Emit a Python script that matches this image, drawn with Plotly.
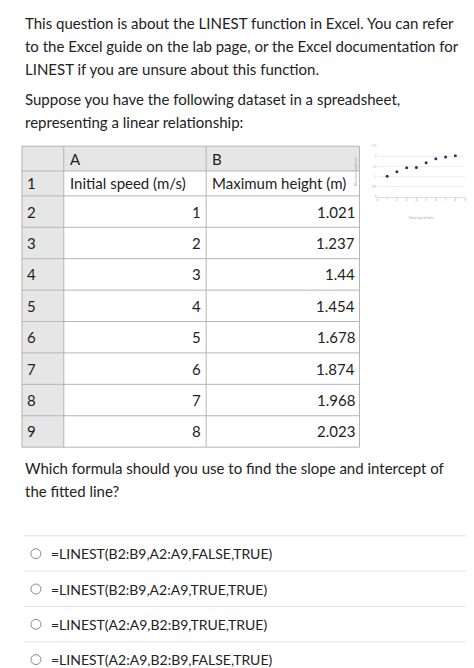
import plotly.graph_objects as go

W, H = 474, 668

intro = ["This question is about the LINEST function in Excel. You can refer",
         "to the Excel guide on the lab page, or the Excel documentation for",
         "LINEST if you are unsure about this function."]
suppose = ["Suppose you have the following dataset in a spreadsheet,",
           "representing a linear relationship:"]
question = ["Which formula should you use to find the slope and intercept of",
            "the fitted line?"]
options = ["=LINEST(B2:B9,A2:A9,FALSE,TRUE)",
           "=LINEST(B2:B9,A2:A9,TRUE,TRUE)",
           "=LINEST(A2:A9,B2:B9,TRUE,TRUE)",
           "=LINEST(A2:A9,B2:B9,FALSE,TRUE)"]
col_letters = ["A", "B"]
headers = ["Initial speed (m/s)", "Maximum height (m)"]
speed = [1, 2, 3, 4, 5, 6, 7, 8]
height = ["1.021", "1.237", "1.44", "1.454", "1.678", "1.874", "1.968", "2.023"]

FONT = "Lato, Noto Sans, sans-serif"
TXT = "#222222"
fig = go.Figure()
ann = []
shapes = []

def text(x, y, s, anchor="left", size=15):
    ann.append(dict(x=x, y=y, text=s, showarrow=False, xanchor=anchor, yanchor="middle",
                    xref="x", yref="y", font=dict(family=FONT, size=size, color=TXT)))

for i, s in enumerate(intro):
    text(14, 13 + 23 * i, s)
for i, s in enumerate(suppose):
    text(14, 90 + 23 * i, s)
for i, s in enumerate(question):
    text(14, 461 + 23 * i, s)

# table
cols = [13, 55, 198, 352]
rows = [137, 162, 187]
for k in range(1, len(speed) + 1):
    rows.append(187 + k * 31.6)
shapes.append(dict(type="rect", x0=cols[0], x1=cols[3], y0=rows[0], y1=rows[1],
                   fillcolor="#e6e6e6", line=dict(width=0), layer="below"))
shapes.append(dict(type="rect", x0=cols[0], x1=cols[1], y0=rows[0], y1=rows[-1],
                   fillcolor="#e6e6e6", line=dict(width=0), layer="below"))
for y in rows:
    shapes.append(dict(type="line", x0=cols[0], x1=cols[3], y0=y, y1=y, line=dict(color="#b5b5b5", width=1)))
for x in cols:
    shapes.append(dict(type="line", x0=x, x1=x, y0=rows[0], y1=rows[-1], line=dict(color="#b5b5b5", width=1)))
for j, c in enumerate(col_letters):
    text(cols[j + 1] + 4, (rows[0] + rows[1]) / 2, c)
    text(cols[j + 1] + 4, (rows[1] + rows[2]) / 2, headers[j])
text(cols[0] + 3, (rows[1] + rows[2]) / 2, "1")
for k in range(len(speed)):
    ym = (rows[k + 2] + rows[k + 3]) / 2
    text(cols[0] + 3, ym, str(k + 2))
    text(cols[2] - 3, ym, str(speed[k]), anchor="right")
    text(cols[3] - 3, ym, height[k], anchor="right")

# options
for i, s in enumerate(options):
    y = 547 + 35.5 * i
    shapes.append(dict(type="line", x0=15, x1=460, y0=y - 18, y1=y - 18, line=dict(color="#e3e3e3", width=1)))
    shapes.append(dict(type="circle", x0=22, x1=32, y0=y - 5, y1=y + 5, line=dict(color="#8a8a8a", width=1)))
    text(40, y, s, size=14)

fig.add_trace(go.Scatter(x=[0], y=[0], mode="markers", marker=dict(opacity=0), showlegend=False, hoverinfo="skip"))

# inset chart
fig.add_trace(go.Scatter(x=speed, y=[float(h) for h in height], mode="markers", xaxis="x2", yaxis="y2",
                         marker=dict(color="#1f3a5f", size=3), showlegend=False))

fig.update_layout(
    width=W, height=H, margin=dict(l=0, r=0, t=0, b=0),
    paper_bgcolor="white", plot_bgcolor="white",
    xaxis=dict(range=[0, W], visible=False, domain=[0, 1]),
    yaxis=dict(range=[H, 0], visible=False, domain=[0, 1]),
    xaxis2=dict(domain=[370 / W, 458 / W], anchor="y2", range=[0, 9], dtick=1,
                tickfont=dict(size=3, color="#999"), showgrid=False, linecolor="#ddd",
                title=dict(text="Initial speed (m/s)", font=dict(size=3, color="#999"))),
    yaxis2=dict(domain=[1 - 188 / H, 1 - 137 / H], anchor="x2", range=[0, 2.5], dtick=0.5,
                tickfont=dict(size=3, color="#999"), gridcolor="#eee",
                title=dict(text="Maximum height (m)", font=dict(size=3, color="#999"))),
    annotations=ann, shapes=shapes,
)
fig.write_html("out.html")
